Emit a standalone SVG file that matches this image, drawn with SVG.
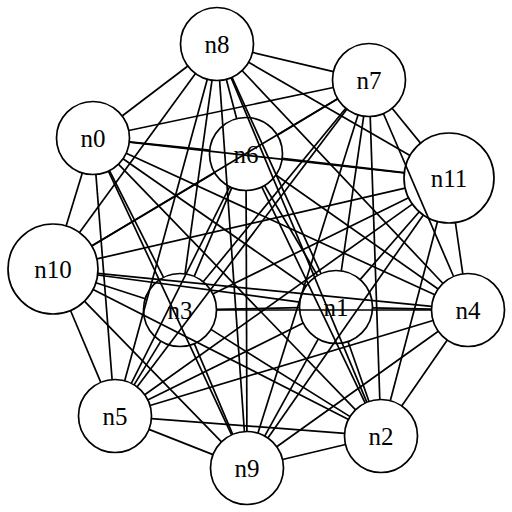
<svg xmlns="http://www.w3.org/2000/svg" width="512" height="512" viewBox="0 0 512 512">
<style>
.e line{stroke:#000;stroke-width:1.7;fill:none}
.n circle{fill:none;stroke:#000;stroke-width:1.7}
.n text{font-family:"Liberation Serif","Times New Roman",serif;font-size:25px;text-anchor:middle;fill:#000}
</style>
<rect width="512" height="512" fill="#fff"/>
<g id="edges" class="e">
<line x1="252.5" y1="52.4" x2="333.5" y2="71.6"/>
<line x1="187.9" y1="66.0" x2="122.1" y2="116.0"/>
<line x1="226.3" y1="79.3" x2="236.7" y2="118.7"/>
<line x1="248.6" y1="62.3" x2="410.0" y2="155.5"/>
<line x1="195.5" y1="73.5" x2="79.5" y2="232.6"/>
<line x1="212.0" y1="80.1" x2="185.0" y2="273.9"/>
<line x1="232.0" y1="77.3" x2="321.0" y2="273.7"/>
<line x1="242.0" y1="70.5" x2="443.0" y2="283.5"/>
<line x1="207.3" y1="79.2" x2="124.7" y2="380.8"/>
<line x1="231.1" y1="77.7" x2="366.9" y2="402.3"/>
<line x1="219.6" y1="80.4" x2="244.4" y2="431.6"/>
<line x1="333.3" y1="87.5" x2="128.7" y2="130.5"/>
<line x1="337.7" y1="98.8" x2="277.3" y2="135.2"/>
<line x1="392.1" y1="108.3" x2="420.5" y2="143.1"/>
<line x1="337.7" y1="98.7" x2="91.6" y2="245.9"/>
<line x1="345.8" y1="108.2" x2="203.2" y2="281.8"/>
<line x1="363.7" y1="116.1" x2="341.3" y2="270.9"/>
<line x1="383.4" y1="113.5" x2="453.6" y2="276.5"/>
<line x1="347.0" y1="109.1" x2="137.0" y2="386.9"/>
<line x1="370.2" y1="116.5" x2="379.8" y2="399.5"/>
<line x1="358.1" y1="114.8" x2="257.9" y2="433.2"/>
<line x1="129.3" y1="141.8" x2="209.7" y2="150.2"/>
<line x1="129.3" y1="142.1" x2="404.3" y2="173.0"/>
<line x1="82.3" y1="172.9" x2="66.1" y2="226.0"/>
<line x1="109.5" y1="170.6" x2="163.5" y2="277.4"/>
<line x1="123.0" y1="158.8" x2="306.0" y2="286.2"/>
<line x1="126.2" y1="153.2" x2="434.8" y2="294.8"/>
<line x1="95.9" y1="174.4" x2="112.1" y2="379.6"/>
<line x1="118.4" y1="164.2" x2="355.6" y2="409.8"/>
<line x1="108.4" y1="171.1" x2="231.6" y2="434.9"/>
<line x1="282.2" y1="158.3" x2="404.3" y2="172.7"/>
<line x1="214.6" y1="172.7" x2="91.7" y2="246.0"/>
<line x1="231.8" y1="187.6" x2="194.2" y2="276.4"/>
<line x1="264.5" y1="185.5" x2="317.5" y2="275.5"/>
<line x1="275.9" y1="175.0" x2="438.1" y2="289.0"/>
<line x1="229.7" y1="186.6" x2="131.3" y2="383.4"/>
<line x1="261.8" y1="186.9" x2="365.2" y2="403.1"/>
<line x1="246.1" y1="190.5" x2="246.9" y2="431.5"/>
<line x1="405.1" y1="188.1" x2="96.9" y2="258.9"/>
<line x1="408.6" y1="197.8" x2="212.8" y2="293.9"/>
<line x1="419.3" y1="211.8" x2="360.1" y2="279.6"/>
<line x1="455.4" y1="222.5" x2="462.8" y2="273.9"/>
<line x1="412.4" y1="204.1" x2="144.7" y2="394.8"/>
<line x1="437.5" y1="221.5" x2="390.3" y2="400.7"/>
<line x1="423.3" y1="214.9" x2="267.9" y2="438.0"/>
<line x1="95.8" y1="282.8" x2="145.3" y2="298.8"/>
<line x1="97.6" y1="275.0" x2="299.8" y2="302.1"/>
<line x1="97.8" y1="273.4" x2="431.7" y2="306.4"/>
<line x1="70.5" y1="310.5" x2="100.8" y2="382.4"/>
<line x1="93.1" y1="289.4" x2="348.5" y2="419.4"/>
<line x1="84.4" y1="301.2" x2="221.5" y2="441.9"/>
<line x1="216.5" y1="309.3" x2="299.5" y2="307.7"/>
<line x1="216.5" y1="310" x2="431.5" y2="310"/>
<line x1="160.9" y1="341.1" x2="134.1" y2="384.9"/>
<line x1="210.9" y1="329.4" x2="350.1" y2="416.6"/>
<line x1="194.3" y1="343.6" x2="232.7" y2="434.4"/>
<line x1="372.5" y1="307.8" x2="431.5" y2="309.2"/>
<line x1="303.3" y1="323.1" x2="147.7" y2="399.9"/>
<line x1="348.0" y1="341.5" x2="369.0" y2="401.5"/>
<line x1="318.3" y1="338.9" x2="264.7" y2="436.1"/>
<line x1="433.0" y1="320.5" x2="150.0" y2="405.5"/>
<line x1="447.3" y1="340.0" x2="401.7" y2="406.0"/>
<line x1="438.3" y1="331.2" x2="276.7" y2="446.8"/>
<line x1="151.4" y1="418.7" x2="344.6" y2="433.3"/>
<line x1="149.0" y1="429.4" x2="213.0" y2="454.6"/>
<line x1="345.5" y1="444.5" x2="282.5" y2="459.5"/>
</g>
<g id="n8" class="n"><circle cx="217" cy="44" r="36.5"/><text x="217" y="52.5">n8</text></g>
<g id="n7" class="n"><circle cx="369" cy="80" r="36.5"/><text x="369" y="88.5">n7</text></g>
<g id="n0" class="n"><circle cx="93" cy="138" r="36.5"/><text x="93" y="146.5">n0</text></g>
<g id="n6" class="n"><circle cx="246" cy="154" r="36.5"/><text x="246" y="162.5">n6</text></g>
<g id="n11" class="n"><circle cx="449" cy="178" r="45"/><text x="449" y="186.5">n11</text></g>
<g id="n10" class="n"><circle cx="53" cy="269" r="45"/><text x="53" y="277.5">n10</text></g>
<g id="n3" class="n"><circle cx="180" cy="310" r="36.5"/><text x="180" y="318.5">n3</text></g>
<g id="n1" class="n"><circle cx="336" cy="307" r="36.5"/><text x="336" y="315.5">n1</text></g>
<g id="n4" class="n"><circle cx="468" cy="310" r="36.5"/><text x="468" y="318.5">n4</text></g>
<g id="n5" class="n"><circle cx="115" cy="416" r="36.5"/><text x="115" y="424.5">n5</text></g>
<g id="n2" class="n"><circle cx="381" cy="436" r="36.5"/><text x="381" y="444.5">n2</text></g>
<g id="n9" class="n"><circle cx="247" cy="468" r="36.5"/><text x="247" y="476.5">n9</text></g>
</svg>
